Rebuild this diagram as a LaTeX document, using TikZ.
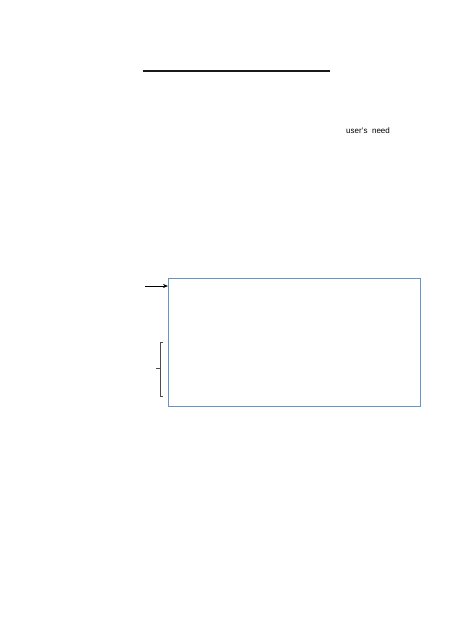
\documentclass[tikz,border=0pt]{standalone}
\usepackage{fontspec}
\setmainfont{Liberation Sans}
\usetikzlibrary{positioning, arrows.meta}

\definecolor{boxblue}{HTML}{7890AA}

\tikzset{
    panel/.style={draw=boxblue, line width=1.2pt, minimum width=252pt, minimum height=128pt, inner sep=0pt},
    pointer/.style={-{Stealth[length=5pt, width=4pt]}, line width=0.8pt},
    bracket/.style={draw=black!70, line width=0.5pt}
}

\begin{document}
\begin{tikzpicture}[x=1pt, y=-1pt]
    \useasboundingbox (0,0) rectangle (474,632);

    \coordinate (Rule L) at (143,71);
    \coordinate (Rule R) at (330,71);
    \draw[line width=2pt, black!90] (Rule L) -- (Rule R);

    \node[font=\fontsize{8}{9}\selectfont, anchor=center] (Need) at (368,131) {user’s\ \ need};

    \node[panel, anchor=north west] (Box) at (168,278) {};
    \coordinate[left=23pt of Box.north west, yshift=-8pt] (Arrow start);
    \draw[pointer] (Arrow start) -- (Arrow start -| Box.west);

    % brace beside the box
    \draw[bracket] (163,342) -- (160,342) -- (160,396) -- (163,396);
    \draw[bracket] (160,368) -- (156,368);
\end{tikzpicture}
\end{document}
